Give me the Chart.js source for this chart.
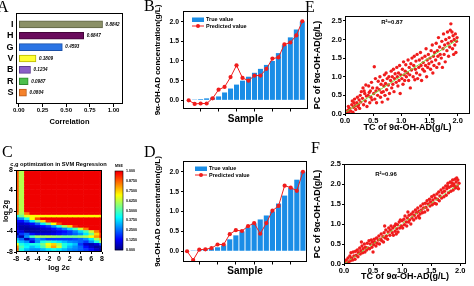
<!DOCTYPE html>
<html>
<head>
<meta charset="utf-8">
<script src="https://cdn.jsdelivr.net/npm/chart.js@4.4.1/dist/chart.umd.min.js"></script>
<style>
  body { margin: 0; background: #fff; width: 474px; height: 286px; overflow: hidden; position: relative; }
  canvas { position: absolute; }
  .tag { position: absolute; font-family: "Liberation Serif", "DejaVu Serif", serif; font-size: 16px; line-height: 1; color: #000; }
</style>
</head>
<body>
<canvas id="cA" width="130" height="130" style="left:0;top:0"></canvas>
<canvas id="cB" width="165" height="130" style="left:150px;top:0"></canvas>
<canvas id="cE" width="164" height="140" style="left:310px;top:0"></canvas>
<canvas id="cC" width="150" height="146" style="left:0;top:140px"></canvas>
<canvas id="cD" width="165" height="146" style="left:150px;top:140px"></canvas>
<canvas id="cF" width="164" height="146" style="left:310px;top:140px"></canvas>

<div class="tag" style="left:-3px;top:-1px">A</div>
<div class="tag" style="left:144px;top:-2px">B</div>
<div class="tag" style="left:305px;top:-1px">E</div>
<div class="tag" style="left:2px;top:144px">C</div>
<div class="tag" style="left:144px;top:144px">D</div>
<div class="tag" style="left:311px;top:140px">F</div>

<script>
// ---- data ----
const corrLabels = ['I', 'H', 'G', 'V', 'B', 'R', 'S'];
const corrValues = [0.8842, 0.6847, 0.4593, 0.1809, 0.1234, 0.0987, 0.0804];
const corrTicks = [0, 0.25, 0.5, 0.75, 1];

const trueB = [0.0, 0.02, 0.03, 0.05, 0.07, 0.1, 0.2, 0.3, 0.4, 0.5, 0.6, 0.7, 0.8, 0.9, 1.0, 1.2, 1.4, 1.6, 1.8, 2.0];
const predB = [0.0, -0.09, -0.08, -0.08, 0.05, 0.27, 0.34, 0.59, 0.89, 0.57, 0.5, 0.63, 0.63, 0.8, 1.06, 1.09, 1.42, 1.47, 1.65, 2.01];
const trueD = [0.0, 0.02, 0.03, 0.05, 0.07, 0.1, 0.15, 0.3, 0.4, 0.5, 0.6, 0.7, 0.8, 0.9, 1.0, 1.2, 1.4, 1.6, 1.8, 2.0];
const predD = [0.0, -0.22, 0.04, 0.05, 0.08, 0.17, 0.17, 0.43, 0.53, 0.51, 0.63, 0.71, 0.44, 0.71, 1.02, 1.14, 1.65, 1.6, 1.52, 2.0];
const concTicks = [0, 0.5, 1, 1.5, 2];
const sampleTicks = [3, 6, 9, 12, 15, 18];

const log2c = [-8, -7, -6, -5, -4, -3, -2, -1, 0, 1, 2, 3, 4, 5, 6, 7, 8];
const log2g = [8, 7.5, 7, 6.5, 6, 5.5, 5, 4.5, 4, 3.5, 3, 2.5, 2, 1.5, 1, 0.5, 0,
  -0.5, -1, -1.5, -2, -2.5, -3, -3.5, -4, -4.5, -5, -5.5, -6, -6.5, -7, -7.5, -8];
const mse = [
  [0.9, 0.62, 1, 1, 1, 1, 1, 1, 1, 1, 1, 1, 1, 1, 1, 1, 1],
  [0.9, 0.62, 1, 1, 1, 1, 1, 1, 1, 1, 1, 1, 1, 1, 1, 1, 1],
  [0.9, 0.62, 1, 1, 1, 1, 1, 1, 1, 1, 1, 1, 1, 1, 1, 1, 1],
  [0.9, 0.62, 1, 1, 1, 1, 1, 1, 1, 1, 1, 1, 1, 1, 1, 1, 1],
  [0.9, 0.62, 1, 1, 1, 1, 1, 1, 1, 1, 1, 1, 1, 1, 1, 1, 1],
  [0.9, 0.62, 1, 1, 1, 1, 1, 1, 1, 1, 1, 1, 1, 1, 1, 1, 1],
  [0.9, 0.62, 1, 1, 1, 1, 1, 1, 1, 1, 1, 1, 1, 1, 1, 1, 1],
  [0.9, 0.62, 1, 1, 1, 1, 1, 1, 1, 1, 1, 1, 1, 1, 1, 1, 1],
  [0.9, 0.62, 1, 1, 1, 1, 1, 1, 1, 1, 1, 1, 1, 1, 1, 1, 1],
  [0.9, 0.62, 1, 1, 1, 1, 1, 1, 1, 1, 1, 1, 1, 1, 1, 1, 1],
  [0.9, 0.62, 1, 1, 1, 1, 1, 1, 1, 1, 1, 1, 1, 1, 1, 1, 1],
  [0.9, 0.62, 1, 1, 1, 1, 1, 1, 1, 1, 1, 1, 1, 1, 1, 1, 1],
  [0.9, 0.62, 1, 1, 1, 1, 1, 1, 1, 1, 1, 1, 1, 1, 1, 1, 1],
  [0.9, 0.62, 1, 1, 1, 1, 1, 1, 1, 1, 1, 1, 1, 1, 1, 1, 1],
  [0.9, 0.62, 1, 1, 1, 1, 1, 1, 1, 1, 1, 1, 1, 1, 1, 1, 1],
  [0.9, 0.62, 1, 1, 1, 1, 1, 1, 1, 1, 1, 1, 1, 1, 1, 1, 1],
  [0.9, 0.62, 1, 1, 1, 1, 1, 1, 1, 1, 1, 1, 1, 1, 1, 1, 1],
  [0.85, 0.6, 0.85, 1, 1, 1, 1, 1, 1, 1, 1, 1, 1, 1, 1, 1, 1],
  [0.45, 0.55, 0.68, 0.7, 0.7, 0.7, 0.7, 0.7, 0.7, 0.7, 0.7, 0.7, 0.7, 0.7, 0.7, 0.7, 0.72],
  [0.25, 0.3, 0.45, 0.7, 0.9, 1, 1, 1, 1, 1, 1, 1, 1, 1, 1, 1, 1],
  [0.15, 0.15, 0.25, 0.4, 0.55, 0.75, 0.95, 1, 1, 1, 1, 1, 1, 1, 1, 1, 1],
  [0.1, 0.08, 0.1, 0.15, 0.25, 0.4, 0.55, 0.7, 0.9, 1, 1, 1, 1, 1, 1, 1, 1],
  [0.1, 0.05, 0.05, 0.08, 0.1, 0.15, 0.2, 0.3, 0.45, 0.6, 0.75, 0.95, 1, 1, 1, 1, 1],
  [0.12, 0.05, 0.03, 0.04, 0.05, 0.08, 0.1, 0.15, 0.2, 0.28, 0.38, 0.5, 0.65, 0.85, 1, 1, 1],
  [0.15, 0.1, 0.03, 0.03, 0.04, 0.05, 0.06, 0.08, 0.12, 0.15, 0.2, 0.28, 0.38, 0.5, 0.65, 0.85, 1],
  [0.03, 0.2, 0.25, 0.15, 0.1, 0.1, 0.1, 0.12, 0.15, 0.18, 0.2, 0.25, 0.3, 0.4, 0.55, 0.75, 0.92],
  [0.2, 0.05, 0.3, 0.5, 0.6, 0.6, 0.62, 0.6, 0.58, 0.55, 0.55, 0.55, 0.58, 0.62, 0.7, 0.82, 0.95],
  [0.35, 0.25, 0.05, 0.2, 0.3, 0.25, 0.2, 0.2, 0.2, 0.2, 0.2, 0.22, 0.25, 0.3, 0.4, 0.6, 0.78],
  [0.45, 0.35, 0.3, 0.1, 0.3, 0.45, 0.5, 0.45, 0.4, 0.35, 0.3, 0.28, 0.25, 0.2, 0.3, 0.45, 0.6],
  [0.7, 0.45, 0.4, 0.45, 0.45, 0.55, 0.7, 0.75, 0.6, 0.45, 0.4, 0.35, 0.2, 0.08, 0.05, 0.1, 0.25],
  [0.85, 0.5, 0.42, 0.35, 0.4, 0.5, 0.65, 0.8, 0.65, 0.45, 0.35, 0.3, 0.25, 0.15, 0.08, 0.03, 0.05],
  [0.9, 0.45, 0.35, 0.3, 0.3, 0.35, 0.4, 0.45, 0.4, 0.35, 0.3, 0.28, 0.25, 0.2, 0.15, 0.08, 0.02],
  [0.75, 0.4, 0.3, 0.28, 0.28, 0.3, 0.32, 0.35, 0.32, 0.3, 0.28, 0.25, 0.22, 0.2, 0.18, 0.12, 0.05]
];
const logTicks = [-8, -6, -4, -2, 0, 2, 4, 6, 8];
const mseTicks = [1, 0.875, 0.75, 0.625, 0.5, 0.375, 0.25, 0.125, 0];
const mseLabels = ['1.000', '0.8750', '0.7500', '0.6250', '0.5000', '0.3750', '0.2500', '0.1250', '0.000'];

const scatterE = [
  [0.03,0.05],[0.05,0.1],[0.07,0.02],[0.08,0.15],[0.1,0.08],[0.06,0.2],
  [0.12,0.25],[0.13,0.35],[0.15,0.18],[0.16,0.3],[0.18,0.22],[0.17,0.4],[0.19,0.12],[0.14,0.05],
  [0.21,0.3],[0.22,0.45],[0.23,0.2],[0.25,0.38],[0.26,0.15],[0.27,0.5],[0.28,0.32],[0.24,0.25],[0.29,0.6],
  [0.31,0.42],[0.32,0.7],[0.33,0.25],[0.35,0.55],[0.36,0.35],[0.37,0.78],[0.38,0.48],[0.39,0.2],[0.34,0.62],
  [0.41,0.5],[0.42,0.75],[0.44,0.3],[0.45,0.62],[0.46,0.45],[0.47,0.85],[0.48,0.38],[0.49,0.7],[0.43,0.58],
  [0.51,0.55],[0.52,1.27],[0.53,0.4],[0.54,0.95],[0.56,0.3],[0.57,0.7],[0.58,0.5],[0.59,0.88],[0.55,0.62],
  [0.61,0.65],[0.62,1.0],[0.63,0.45],[0.64,0.8],[0.65,0.58],[0.66,0.32],[0.67,0.9],[0.68,0.6],[0.69,0.75],[0.7,1.05],
  [0.71,0.5],[0.72,0.82],[0.73,1.1],[0.74,0.65],[0.75,0.95],[0.76,0.4],[0.77,0.78],[0.78,1.0],[0.79,0.55],
  [0.81,0.9],[0.82,1.15],[0.83,0.7],[0.84,1.0],[0.85,0.8],[0.86,1.2],[0.87,0.6],[0.88,0.95],[0.89,1.08],
  [0.91,0.85],[0.92,1.25],[0.93,1.0],[0.94,0.75],[0.95,1.1],[0.96,0.9],[0.97,1.3],[0.98,0.55],[0.99,1.05],
  [1.01,0.95],[1.02,1.2],[1.03,0.8],[1.04,1.4],[1.05,1.05],[1.06,0.9],[1.07,1.15],[1.08,1.32],[1.09,1.0],
  [1.11,1.1],[1.12,1.45],[1.13,0.9],[1.14,1.25],[1.15,1.05],[1.16,0.7],[1.17,1.35],[1.18,1.18],[1.19,1.5],
  [1.21,1.0],[1.22,1.3],[1.23,1.55],[1.24,0.92],[1.25,1.2],[1.26,1.42],[1.27,1.1],[1.28,1.6],[1.29,0.95],
  [1.31,1.25],[1.32,1.45],[1.33,1.05],[1.34,1.65],[1.35,1.3],[1.36,0.9],[1.37,1.5],[1.38,1.2],[1.39,1.38],
  [1.41,1.15],[1.42,1.55],[1.43,1.3],[1.44,1.75],[1.45,1.0],[1.46,1.45],[1.47,1.25],[1.48,1.6],[1.49,1.35],
  [1.51,1.5],[1.52,1.2],[1.53,1.7],[1.54,1.4],[1.55,1.85],[1.56,1.1],[1.57,1.55],[1.58,1.3],[1.59,1.65],
  [1.61,1.45],[1.62,1.9],[1.63,1.25],[1.64,1.7],[1.65,1.55],[1.66,2.05],[1.67,1.35],[1.68,1.8],[1.69,1.6],
  [1.71,1.5],[1.72,1.95],[1.73,1.25],[1.74,1.75],[1.75,2.15],[1.76,1.6],[1.77,1.85],[1.78,1.4],[1.79,2.0],
  [1.81,1.7],[1.82,2.2],[1.83,1.9],[1.84,1.55],[1.85,2.05],[1.86,1.8],[1.87,2.25],[1.88,2.42],[1.89,1.95],
  [1.91,1.75],[1.92,2.1],[1.93,1.6],[1.94,2.0],[1.95,1.85],[1.96,2.15],[1.97,1.65],[1.98,1.95],[1.99,2.05],[1.9,2.2]
];
const fitE = [[0, 0.04], [2.0, 2.0]];

const scatterF = [
  [0.02,0.05],[0.04,0.1],[0.05,0.02],[0.07,0.15],[0.08,0.05],[0.1,0.2],[0.11,0.08],[0.12,0.28],[0.13,0.15],
  [0.15,0.1],[0.16,0.3],[0.17,0.2],[0.19,0.12],[0.2,0.32],[0.21,0.22],[0.23,0.35],[0.24,0.18],[0.25,0.28],
  [0.27,0.4],[0.28,0.25],[0.29,0.33],[0.31,0.45],[0.32,0.28],[0.33,0.38],[0.35,0.5],[0.36,0.3],[0.37,0.42],
  [0.39,0.35],[0.4,0.52],[0.41,0.4],[0.43,0.58],[0.44,0.38],[0.45,0.5],[0.47,0.6],[0.48,0.42],[0.49,0.55],
  [0.51,0.48],[0.52,0.62],[0.53,0.55],[0.55,0.45],[0.56,0.65],[0.57,0.52],[0.59,0.6],[0.6,0.7],[0.61,0.5],
  [0.63,0.62],[0.64,0.75],[0.65,0.58],[0.67,0.68],[0.68,0.55],[0.69,0.78],[0.71,0.65],[0.72,0.85],[0.73,0.7],
  [0.75,0.62],[0.76,0.8],[0.77,0.9],[0.79,0.72],[0.8,0.85],[0.81,0.95],[0.83,0.78],[0.84,0.9],[0.85,0.72],
  [0.87,0.95],[0.88,0.82],[0.89,1.0],[0.91,0.88],[0.92,0.98],[0.93,0.8],[0.95,1.05],[0.96,0.9],[0.97,1.1],
  [0.99,0.95],[1.0,1.08],[1.01,0.9],[1.03,1.12],[1.04,0.98],[1.05,1.2],[1.07,1.05],[1.08,0.95],[1.09,1.15],
  [1.11,1.05],[1.12,1.22],[1.13,1.1],[1.15,1.0],[1.16,1.25],[1.17,1.15],[1.19,1.3],[1.2,1.1],[1.21,1.22],
  [1.23,1.35],[1.24,1.15],[1.25,1.28],[1.27,1.4],[1.28,1.2],[1.29,1.32],[1.31,1.25],[1.32,1.45],[1.33,1.35],
  [1.35,1.28],[1.36,1.5],[1.37,1.4],[1.39,1.3],[1.4,1.52],[1.41,1.42],[1.43,1.58],[1.44,1.35],[1.45,1.5],
  [1.47,1.62],[1.48,1.45],[1.49,1.55],[1.51,1.68],[1.52,1.48],[1.53,1.6],[1.55,1.72],[1.56,1.52],[1.57,1.65],
  [1.59,1.5],[1.6,1.75],[1.61,1.62],[1.63,1.8],[1.64,1.58],[1.65,1.7],[1.67,1.85],[1.68,1.65],[1.69,1.78],
  [1.71,1.9],[1.72,1.68],[1.73,1.82],[1.75,1.95],[1.76,1.72],[1.77,1.88],[1.79,2.02],[1.8,1.78],[1.81,1.92],
  [1.83,2.05],[1.84,1.82],[1.85,1.95],[1.87,2.1],[1.88,1.85],[1.89,2.0],[1.91,2.12],[1.92,1.9],[1.93,2.05],
  [1.95,1.95],[1.96,2.1],[1.97,1.88],[1.98,2.02],[1.94,2.15],[1.9,1.95],[1.86,2.02],[1.78,1.95],
  [0.3,0.55],[0.5,0.3],[0.7,0.95],[0.9,0.75],[1.1,1.3],[1.3,1.15]
];
const fitF = [[0.02, 0.02], [1.98, 2.0]];
const tcTicks = [0, 0.5, 1, 1.5, 2];
const pcTicks = [0, 0.5, 1, 1.5, 2, 2.5];

// ---- common setup ----
Chart.defaults.font.family = '"Liberation Sans", Arial, sans-serif';
Chart.defaults.font.weight = 'bold';
Chart.defaults.color = '#000';
Chart.defaults.animation = false;
Chart.defaults.responsive = false;
Chart.defaults.plugins.legend.display = false;
Chart.defaults.plugins.tooltip.enabled = false;

const FONT = '"Liberation Sans", Arial, sans-serif';
const barBlue = '#1a8de6';
const dotRed = '#f01c1c';

const fixW = w => s => { s.width = w; };
const fixH = h => s => { s.height = h; };
const ticksAt = arr => s => { s.ticks = arr.map(v => ({ value: v })); };
const tickGrid = len => ({ drawOnChartArea: false, drawTicks: true, tickLength: len, color: '#000' });

const frame = {
  id: 'frame',
  afterDraw(chart) {
    const { ctx, chartArea: a } = chart;
    ctx.save();
    ctx.strokeStyle = '#000';
    ctx.lineWidth = 1;
    ctx.strokeRect(Math.round(a.left) + 0.5, Math.round(a.top) + 0.5,
      Math.round(a.right - a.left) - 1, Math.round(a.bottom - a.top) - 1);
    ctx.restore();
  }
};

function jet(v) {
  const t = Math.max(0, Math.min(1, v)) * 0.89;
  const c = k => Math.round(255 * Math.max(0, Math.min(1, 1.5 - Math.abs(4 * t - k))));
  return `rgb(${c(3)},${c(2)},${c(1)})`;
}

function legendPlugin(x, y) {
  return {
    id: 'legendBox',
    afterDraw(chart) {
      const ctx = chart.ctx;
      ctx.save();
      ctx.fillStyle = barBlue;
      ctx.fillRect(x, y, 12, 4.5);
      ctx.strokeStyle = dotRed;
      ctx.lineWidth = 1;
      ctx.beginPath();
      ctx.moveTo(x, y + 8.5);
      ctx.lineTo(x + 12, y + 8.5);
      ctx.stroke();
      ctx.fillStyle = dotRed;
      ctx.beginPath();
      ctx.arc(x + 6, y + 8.5, 2, 0, Math.PI * 2);
      ctx.fill();
      ctx.fillStyle = '#000';
      ctx.font = 'bold 5.5px ' + FONT;
      ctx.textBaseline = 'middle';
      ctx.fillText('True value', x + 14, y + 2.3);
      ctx.fillText('Predicted value', x + 14, y + 8.7);
      ctx.restore();
    }
  };
}

function textPlugin(text, x, y, size) {
  return {
    id: 'note',
    afterDraw(chart) {
      const ctx = chart.ctx;
      ctx.save();
      ctx.fillStyle = '#000';
      ctx.font = 'bold ' + size + 'px ' + FONT;
      ctx.textAlign = 'center';
      ctx.textBaseline = 'middle';
      ctx.fillText(text, x, y);
      ctx.restore();
    }
  };
}

// ---- A: correlation bars ----
const corrFill = ['#8b9066', '#6a0b5c', '#2b74e4', '#ffff33', '#8a5ec8', '#4cbf4c', '#f5822b'];
const corrEdge = ['#5f6444', '#430438', '#1a50a8', '#b8b800', '#5f3d93', '#2f8a2f', '#b85a18'];

const valueLabels = {
  id: 'valueLabels',
  afterDatasetsDraw(chart) {
    const ctx = chart.ctx;
    const meta = chart.getDatasetMeta(0);
    ctx.save();
    ctx.fillStyle = '#000';
    ctx.font = 'italic bold 4.6px ' + FONT;
    ctx.textBaseline = 'middle';
    meta.data.forEach((el, i) => {
      const v = chart.data.datasets[0].data[i];
      if (v == null) return;
      ctx.fillText(v.toFixed(4), el.x + 3, el.y);
    });
    ctx.restore();
  }
};

new Chart(document.getElementById('cA'), {
  type: 'bar',
  data: {
    labels: ['', ...corrLabels, ''],
    datasets: [{
      data: [null, ...corrValues, null],
      backgroundColor: ['#fff', ...corrFill, '#fff'],
      borderColor: ['#fff', ...corrEdge, '#fff'],
      borderWidth: 1,
      borderSkipped: false,
      barThickness: 7
    }]
  },
  options: {
    indexAxis: 'y',
    layout: { padding: { top: 13, right: 7, left: 0, bottom: 0 } },
    scales: {
      x: {
        type: 'linear', min: -0.03, max: 1.1,
        afterFit: fixH(26), afterBuildTicks: ticksAt(corrTicks),
        border: { display: false }, grid: tickGrid(3),
        ticks: { font: { size: 6 }, padding: 0, maxRotation: 0, callback: v => v.toFixed(2) },
        title: { display: true, text: 'Correlation', font: { size: 7.5 }, padding: { top: 0, bottom: 4 } }
      },
      y: {
        type: 'category', offset: false,
        afterFit: fixW(16),
        border: { display: false }, grid: { display: false, drawTicks: false, tickLength: 0 },
        ticks: { font: { size: 9 }, padding: 2.5, autoSkip: false }
      }
    }
  },
  plugins: [frame, valueLabels]
});

// ---- B / D: true vs predicted ----
function sampleChart(id, trueVals, predVals, o) {
  new Chart(document.getElementById(id), {
    type: 'bar',
    data: {
      datasets: [{
        type: 'line',
        order: 0,
        data: predVals.map((v, i) => ({ x: i + 1, y: v })),
        borderColor: dotRed,
        backgroundColor: dotRed,
        borderWidth: 1,
        pointRadius: 2.1,
        pointBorderWidth: 0,
        tension: 0
      }, {
        type: 'bar',
        order: 1,
        data: trueVals.map((v, i) => ({ x: i + 1, y: v })),
        backgroundColor: barBlue,
        barPercentage: 0.84,
        categoryPercentage: 1
      }]
    },
    options: {
      layout: { padding: { top: o.top, right: o.right, left: 0, bottom: 0 } },
      scales: {
        x: {
          type: 'linear', min: o.xmin, max: o.xmax, offset: false,
          afterFit: fixH(o.xh), afterBuildTicks: ticksAt(sampleTicks),
          border: { display: false }, grid: Object.assign(tickGrid(2.5), { offset: false }),
          ticks: { display: false },
          title: { display: true, text: 'Sample', font: { size: 10 }, padding: { top: 0, bottom: o.titlePad } }
        },
        y: {
          min: o.ymin, max: o.ymax,
          afterFit: fixW(33), afterBuildTicks: ticksAt(concTicks),
          border: { display: false }, grid: tickGrid(2),
          ticks: { font: { size: 6.8 }, padding: 2, callback: v => v.toFixed(1) },
          title: { display: true, text: '9α-OH-AD concentration(g/L)', font: { size: 8 }, padding: { top: 3, bottom: 0 } }
        }
      }
    },
    plugins: [frame, legendPlugin(o.legX, o.legY)]
  });
}

sampleChart('cB', trueB, predB, { top: 11, right: 7, xh: 21, xmin: 0.05, xmax: 20.95, ymin: -0.22, ymax: 2.27, titlePad: 4.5, legX: 42, legY: 17.5 });
sampleChart('cD', trueD, predD, { top: 21, right: 8, xh: 24, xmin: 0.33, xmax: 20.67, ymin: -0.27, ymax: 2.27, titlePad: 9, legX: 45, legY: 26.5 });

// ---- C: SVM grid search heat map ----
const heat = {
  id: 'heat',
  beforeDatasetsDraw(chart) {
    const { ctx, chartArea: a, scales: { x, y } } = chart;
    ctx.save();
    ctx.beginPath();
    ctx.rect(a.left, a.top, a.right - a.left, a.bottom - a.top);
    ctx.clip();
    mse.forEach((row, j) => {
      const g = log2g[j];
      const y0 = y.getPixelForValue(g + 0.25), y1 = y.getPixelForValue(g - 0.25);
      row.forEach((v, i) => {
        const c = log2c[i];
        const x0 = x.getPixelForValue(c - 0.5), x1 = x.getPixelForValue(c + 0.5);
        ctx.fillStyle = jet(v);
        ctx.fillRect(x0, y0, x1 - x0 + 0.6, y1 - y0 + 0.6);
      });
    });
    ctx.restore();
  },
  afterDraw(chart) {
    const ctx = chart.ctx;
    ctx.save();
    ctx.fillStyle = '#000';
    ctx.font = 'bold 5.7px ' + FONT;
    ctx.textAlign = 'center';
    ctx.textBaseline = 'middle';
    ctx.fillText('c,g optimization in SVM Regression', 58.5, 24.5);
    // colour bar
    const bx = 115, top = 31, h = 79;
    for (let p = 0; p < h; p++) {
      ctx.fillStyle = jet(1 - p / h);
      ctx.fillRect(bx, top + p, 8, 1.2);
    }
    ctx.strokeStyle = '#000';
    ctx.lineWidth = 0.6;
    ctx.strokeRect(bx, top, 8, h);
    ctx.fillStyle = '#000';
    ctx.font = 'bold 3.6px ' + FONT;
    ctx.fillText('MSE', bx + 4, top - 5);
    ctx.textAlign = 'left';
    mseTicks.forEach((v, i) => {
      ctx.fillText(mseLabels[i], bx + 11, top + (1 - v) * h);
    });
    ctx.restore();
  }
};

new Chart(document.getElementById('cC'), {
  type: 'scatter',
  data: { datasets: [] },
  options: {
    layout: { padding: { top: 30, right: 48, left: 0, bottom: 0 } },
    scales: {
      x: {
        type: 'linear', min: -8, max: 8,
        afterFit: fixH(34), afterBuildTicks: ticksAt(logTicks),
        border: { display: false }, grid: tickGrid(2),
        ticks: { font: { size: 7 }, padding: 1, maxRotation: 0 },
        title: { display: true, text: 'log 2c', font: { size: 7.5 }, padding: { top: 0, bottom: 14 } }
      },
      y: {
        type: 'linear', min: -8, max: 8,
        afterFit: fixW(16), afterBuildTicks: ticksAt(logTicks),
        border: { display: false }, grid: tickGrid(2),
        ticks: { font: { size: 7 }, padding: 1 },
        title: { display: true, text: 'log 2g', font: { size: 7.5 }, padding: { top: 1.5, bottom: 0 } }
      }
    }
  },
  plugins: [heat, frame]
});

// ---- E / F: predicted vs true scatter ----
function scatterChart(id, pts, fit, o) {
  new Chart(document.getElementById(id), {
    type: 'scatter',
    data: {
      datasets: [{
        type: 'line',
        data: fit.map(p => ({ x: p[0], y: p[1] })),
        borderColor: '#72dc3a',
        borderWidth: 1,
        borderDash: o.dash,
        pointRadius: 0
      }, {
        data: pts.map(p => ({ x: p[0], y: p[1] })),
        backgroundColor: dotRed,
        pointRadius: 1.7,
        pointBorderWidth: 0
      }]
    },
    options: {
      layout: { padding: { top: o.top, right: o.right, left: 0, bottom: 0 } },
      scales: {
        x: {
          type: 'linear', min: 0, max: o.xmax,
          afterFit: fixH(o.xh), afterBuildTicks: ticksAt(tcTicks),
          border: { display: false }, grid: tickGrid(2),
          ticks: { font: { size: 7.5 }, padding: 0, maxRotation: 0, callback: v => v.toFixed(1) },
          title: { display: true, text: 'TC of 9α-OH-AD(g/L)', font: { size: 9 }, padding: { top: 0, bottom: o.titlePad } }
        },
        y: {
          type: 'linear', min: 0, max: o.ymax,
          afterFit: fixW(o.yw), afterBuildTicks: ticksAt(pcTicks),
          border: { display: false }, grid: tickGrid(2),
          ticks: { font: { size: 7.5 }, padding: 1, callback: v => v.toFixed(1) },
          title: { display: true, text: 'PC of 9α-OH-AD(g/L)', font: { size: 9 }, padding: { top: 2.6, bottom: 0 } }
        }
      }
    },
    plugins: [frame, textPlugin(o.note, o.noteX, o.noteY, 6)]
  });
}

scatterChart('cE', scatterE, fitE, { top: 16, right: 2, xh: 26, yw: 35, xmax: 2.22, ymax: 2.63, titlePad: 7, dash: [], note: 'R²=0.87', noteX: 82, noteY: 22 });
scatterChart('cF', scatterF, fitF, { top: 24, right: 8, xh: 22, yw: 34, xmax: 2.1, ymax: 2.5, titlePad: 4, dash: [3, 2], note: 'R²=0.96', noteX: 76, noteY: 34 });
</script>
</body>
</html>
